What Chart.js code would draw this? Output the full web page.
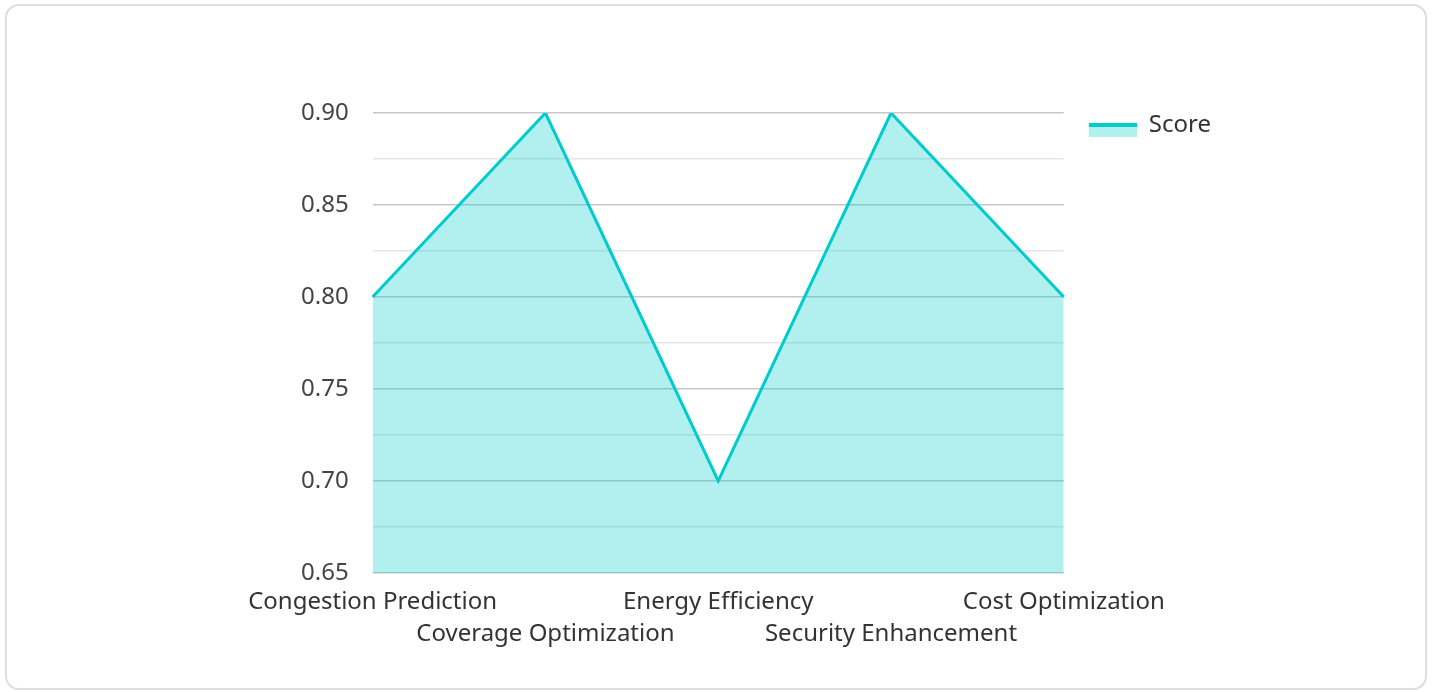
<!DOCTYPE html>
<html>
<head>
<meta charset="utf-8">
<script src="https://cdn.jsdelivr.net/npm/chart.js@4.4.1/dist/chart.umd.min.js"></script>
<style>
  html, body { margin: 0; padding: 0; background: #fff; }
  #card {
    position: absolute; left: 5px; top: 4px; width: 1422px; height: 686px;
    box-sizing: border-box; border: 2px solid #dedede; border-radius: 14px;
  }
  #chart { position: absolute; left: 0; top: 0; }
</style>
</head>
<body>
<div id="card"></div>
<canvas id="chart" width="1432" height="692"></canvas>
<script>
'use strict';

const categories = ['Congestion Prediction', 'Coverage Optimization', 'Energy Efficiency', 'Security Enhancement', 'Cost Optimization'];
const scores = [0.80, 0.90, 0.70, 0.90, 0.80];
const seriesName = 'Score';
const yMin = 0.65;
const yMax = 0.90;
const yStep = 0.025;

const lineColor = '#00cccc';
const fillColor = 'rgba(0, 204, 204, 0.3)';

// legend swatch: line on top, fill underneath (transparent gap on the left, sits a bit low)
function makeSwatch() {
  const c = document.createElement('canvas');
  c.width = 73;
  c.height = 24;
  const g = c.getContext('2d');
  g.fillStyle = fillColor;
  g.fillRect(25, 13, 48, 11);
  g.fillStyle = lineColor;
  g.fillRect(25, 10, 48, 4);
  return c;
}

function isMajor(v) {
  return Math.round(v * 1000) % 50 === 0;
}

Chart.defaults.font.family = '"Noto Sans", "Open Sans", sans-serif';

const ctx = document.getElementById('chart');
new Chart(ctx, {
  type: 'line',
  data: {
    labels: categories,
    datasets: [{
      label: seriesName,
      data: scores,
      borderColor: lineColor,
      backgroundColor: fillColor,
      borderWidth: 3,
      fill: 'start',
      tension: 0,
      pointRadius: 0,
      pointHoverRadius: 0
    }]
  },
  options: {
    responsive: false,
    animation: false,
    layout: { padding: { left: 277, right: 211, top: 113, bottom: 37 } },
    plugins: {
      tooltip: { enabled: false },
      legend: {
        position: 'right',
        align: 'start',
        labels: {
          usePointStyle: true,
          pointStyle: makeSwatch(),
          pointStyleWidth: 73,
          boxHeight: 14,
          color: '#333',
          font: { size: 24 },
          padding: 0
        }
      }
    },
    scales: {
      x: {
        offset: false,
        grid: { display: false },
        border: { display: false },
        ticks: {
          autoSkip: false,
          maxRotation: 0,
          color: '#333',
          font: { size: 24, lineHeight: 1.3333 },
          padding: 5,
          callback: function(value, index) {
            const name = categories[index];
            return index % 2 === 0 ? [name, ''] : ['', name];
          }
        }
      },
      y: {
        min: yMin,
        max: yMax,
        border: { display: false },
        grid: {
          drawTicks: false,
          lineWidth: 1.5,
          color: function(c) {
            return isMajor(c.tick.value) ? '#c8c8c8' : '#e6e6e6';
          }
        },
        ticks: {
          stepSize: yStep,
          color: '#444',
          font: { size: 24 },
          padding: 24,
          callback: function(v) {
            return isMajor(v) ? v.toFixed(2) : '';
          }
        }
      }
    }
  }
});
</script>
</body>
</html>
